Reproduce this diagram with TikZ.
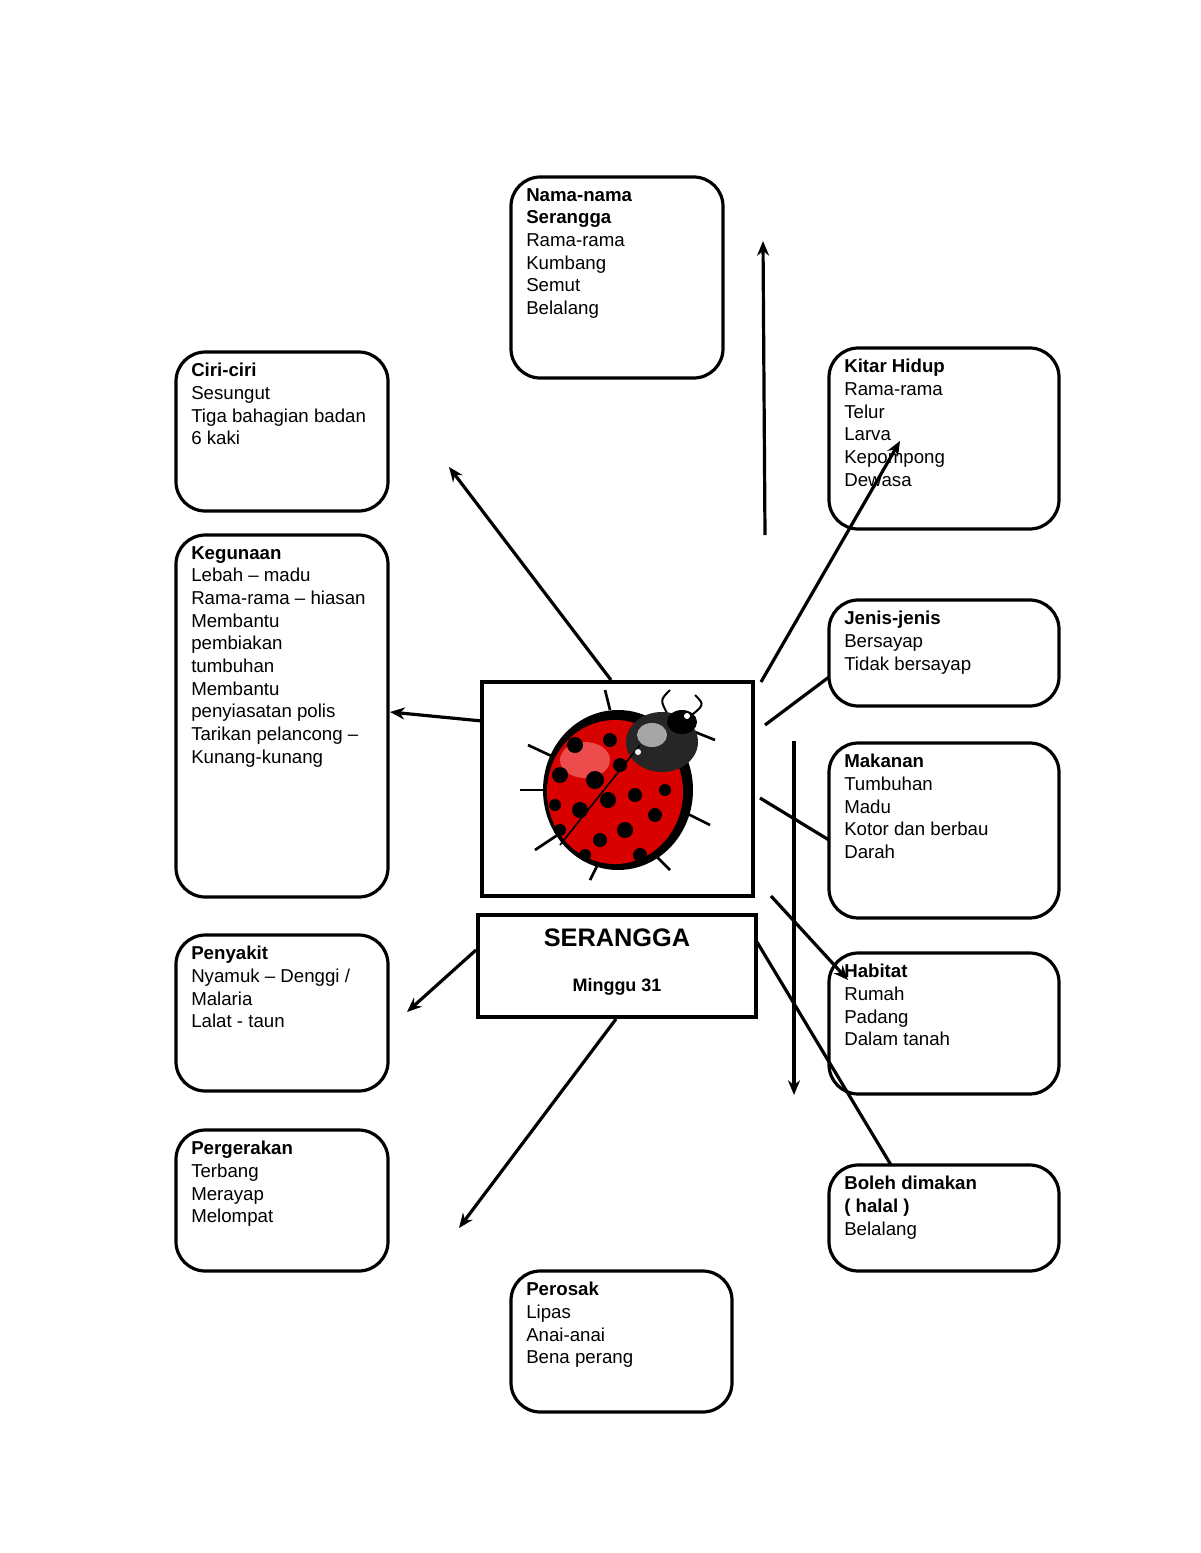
\documentclass[tikz,border=0pt]{standalone}
\usepackage{fontspec}
\setmainfont{Liberation Sans}
\usetikzlibrary{arrows.meta}
\begin{document}
\begin{tikzpicture}[x=0.75pt,y=-0.75pt,
  box/.style={draw,line width=2.4pt,rounded corners=22pt},
  txt/.style={anchor=north west,align=left,font=\fontsize{14}{17}\selectfont,inner sep=0pt},
  arr/.style={line width=2.4pt,-{Stealth[length=11pt,width=9pt]}},
  ln/.style={line width=2.4pt}]
\useasboundingbox (0,0) rectangle (1200,1553);
\newcommand{\bx}[6]{%
  \draw[box] (#2,#3) rectangle (#4,#5);
  \node[txt] (#1) at (#2+15,#3+11) {#6};}
\bx{nama}{511}{177}{723}{378}{\textbf{Nama-nama}\\\textbf{Serangga}\\Rama-rama\\Kumbang\\Semut\\Belalang}
\bx{ciri}{176}{352}{388}{511}{\textbf{Ciri-ciri}\\Sesungut\\Tiga bahagian badan\\6 kaki}
\bx{guna}{176}{535}{388}{897}{\textbf{Kegunaan}\\Lebah – madu\\Rama-rama – hiasan\\Membantu\\pembiakan\\tumbuhan\\Membantu\\penyiasatan polis\\Tarikan pelancong –\\Kunang-kunang}
\bx{sakit}{176}{935}{388}{1091}{\textbf{Penyakit}\\Nyamuk – Denggi /\\Malaria\\Lalat - taun}
\bx{gerak}{176}{1130}{388}{1271}{\textbf{Pergerakan}\\Terbang\\Merayap\\Melompat}
\bx{rosak}{511}{1271}{732}{1412}{\textbf{Perosak}\\Lipas\\Anai-anai\\Bena perang}
\bx{kitar}{829}{348}{1059}{529}{\textbf{Kitar Hidup}\\Rama-rama\\Telur\\Larva\\Kepompong\\Dewasa}
\bx{jenis}{829}{600}{1059}{706}{\textbf{Jenis-jenis}\\Bersayap\\Tidak bersayap}
\bx{makan}{829}{743}{1059}{918}{\textbf{Makanan}\\Tumbuhan\\Madu\\Kotor dan berbau\\Darah}
\bx{habitat}{829}{953}{1059}{1094}{\textbf{Habitat}\\Rumah\\Padang\\Dalam tanah}
\bx{boleh}{829}{1165}{1059}{1271}{\textbf{Boleh dimakan}\\\textbf{( halal )}\\Belalang}
% picture box
\draw[line width=2.4pt] (482,682) rectangle (753,896);
\node[inner sep=0pt] (pic) at (617,789) {};
% ladybug
\begin{scope}
\foreach \a/\b/\c/\d in {560/760/528/745, 552/790/520/790, 565/830/535/850, 600/860/590/880, 650/850/670/870, 680/810/710/825, 610/710/605/690, 690/730/715/740}
  \draw[line width=2pt] (\a,\b) -- (\c,\d);
\draw[line width=1.5pt] (668,715) .. controls (660,700) .. (670,690);
\draw[line width=1.5pt] (685,720) .. controls (705,705) .. (695,695);
\fill[black] (618,790) ellipse (75 and 80);
\fill[red!85!black] (615,792) ellipse (68 and 72);
\fill[red!40!white,opacity=0.5] (585,760) ellipse (25 and 18);
\fill[gray!30!black] (662,742) ellipse (36 and 30);
\fill[gray!70] (652,735) ellipse (15 and 12);
\fill[black] (682,722) ellipse (15 and 12);
\fill[white] (687,716) circle (3);
\draw[line width=1.2pt] (640,745) -- (560,845);
\foreach \p/\q/\r in {575/745/8, 610/740/7, 560/775/8, 595/780/9, 620/765/7, 580/810/8, 608/800/8, 635/795/7, 560/830/6, 625/830/8, 655/815/7, 600/840/7, 640/855/7, 665/790/6, 585/855/6, 555/805/6}
  \fill[black] (\p,\q) circle (\r);
\fill[white] (638,752) circle (3);
\end{scope}
% SERANGGA box
\draw[line width=2.4pt] (478,915) rectangle (756,1017);
\node[font=\bfseries\fontsize{19}{22}\selectfont] (title) at (617,938) {SERANGGA};
\node[font=\bfseries\fontsize{13.5}{16}\selectfont] (minggu) at (617,987) {Minggu 31};
% connectors
\coordinate (a1s) at (611,680); \coordinate (a1e) at (449,467);
\coordinate (a2s) at (765,535); \coordinate (a2e) at (763,241);
\coordinate (a3s) at (761,682); \coordinate (a3e) at (900,441);
\coordinate (a4s) at (765,725); \coordinate (a4e) at (829,677);
\coordinate (a5s) at (794,741); \coordinate (a5e) at (794,1095);
\coordinate (a6s) at (760,798); \coordinate (a6e) at (829,840);
\coordinate (a7s) at (771,896); \coordinate (a7e) at (848,980);
\coordinate (a8s) at (757,942); \coordinate (a8e) at (891,1165);
\coordinate (a9s) at (482,721); \coordinate (a9e) at (390,712);
\coordinate (a10s) at (476,950); \coordinate (a10e) at (407,1012);
\coordinate (a11s) at (616,1019); \coordinate (a11e) at (459,1228);
\draw[arr] (a1s) -- (a1e);
\draw[arr] (a2s) -- (a2e);
\draw[arr] (a3s) -- (a3e);
\draw[ln] (a4s) -- (a4e);
\draw[arr] (a5s) -- (a5e);
\draw[ln] (a6s) -- (a6e);
\draw[arr] (a7s) -- (a7e);
\draw[ln] (a8s) -- (a8e);
\draw[arr] (a9s) -- (a9e);
\draw[arr] (a10s) -- (a10e);
\draw[arr] (a11s) -- (a11e);
\end{tikzpicture}
\end{document}
